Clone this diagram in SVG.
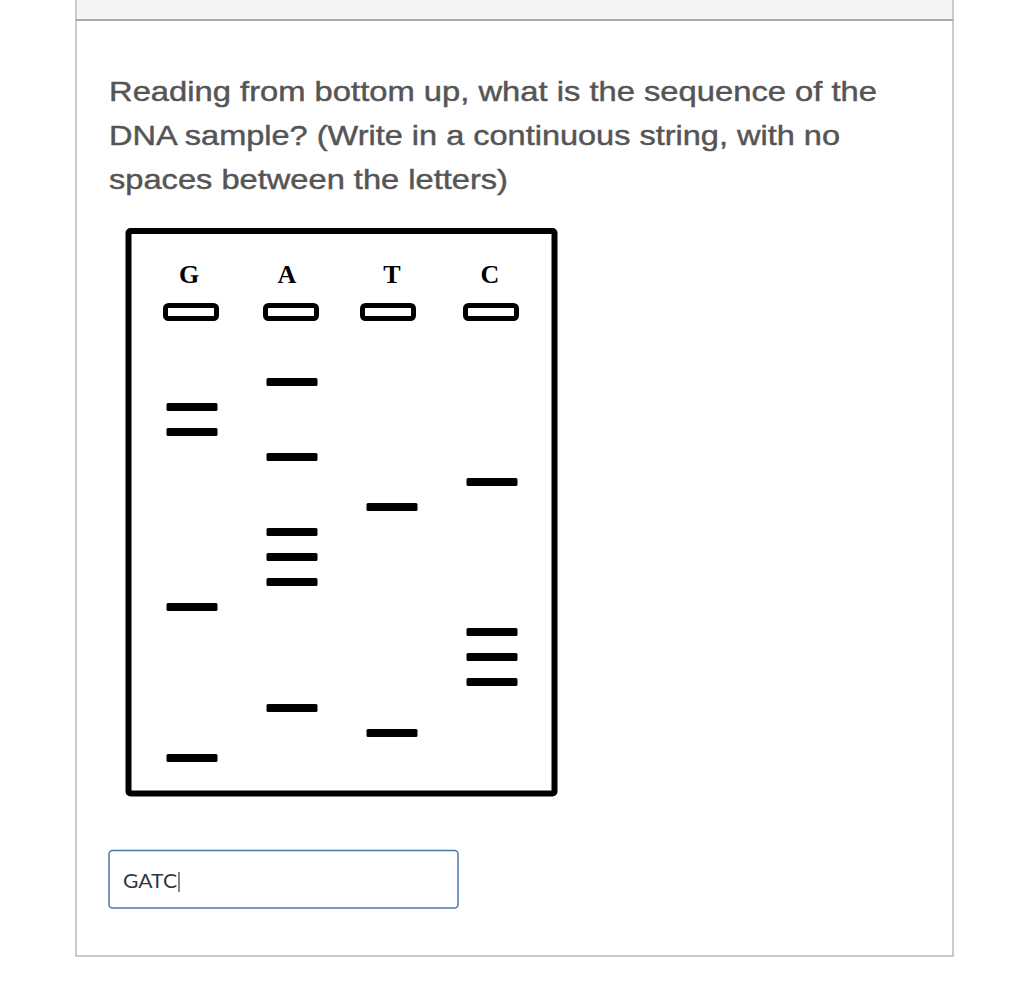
<svg xmlns="http://www.w3.org/2000/svg" width="1024" height="988" viewBox="0 0 1024 988">
<style>
.q{font-family:"Liberation Sans",Arial,sans-serif;font-size:28px;fill:#555555;stroke:#555555;stroke-width:0.45}
.lbl{font-family:"Liberation Serif","Times New Roman",serif;font-size:26px;font-weight:bold;fill:#000;text-anchor:middle}
.well{fill:#fff;stroke:#000;stroke-width:5}
.band{fill:#000}
</style>
<defs>
<rect id="b" class="band" width="51" height="8" rx="1.5"/>
</defs>
<rect x="0" y="0" width="1024" height="988" fill="#fff"/>
<g id="panel">
<rect x="76" y="-2" width="877" height="22" fill="#f4f4f4" stroke="#bbbbbb" stroke-width="1.5"/>
<rect x="76" y="20" width="877" height="936" fill="#fff" stroke="#bbbbbb" stroke-width="1.5"/>
<line x1="76" y1="20" x2="953" y2="20" stroke="#aaaaaa" stroke-width="2"/>
</g>
<g id="question">
<text class="q" x="109" y="101" textLength="768" lengthAdjust="spacingAndGlyphs">Reading from bottom up, what is the sequence of the</text>
<text class="q" x="109" y="145" textLength="731" lengthAdjust="spacingAndGlyphs">DNA sample? (Write in a continuous string, with no</text>
<text class="q" x="109" y="189" textLength="399" lengthAdjust="spacingAndGlyphs">spaces between the letters)</text>
</g>
<g id="gel">
<rect x="128.5" y="231" width="426" height="562.5" rx="2" fill="#fff" stroke="#000" stroke-width="6"/>
<text class="lbl" x="189" y="283">G</text>
<text class="lbl" x="287" y="283">A</text>
<text class="lbl" x="392" y="283">T</text>
<text class="lbl" x="490" y="283">C</text>
<rect class="well" x="165.5" y="305.5" width="51" height="13" rx="3"/>
<rect class="well" x="265.5" y="305.5" width="51" height="13" rx="3"/>
<rect class="well" x="362.5" y="305.5" width="51" height="13" rx="3"/>
<rect class="well" x="465.5" y="305.5" width="51" height="13" rx="3"/>
</g>
<g id="bands">
<use href="#b" x="266.5" y="378"/>
<use href="#b" x="166.5" y="403"/>
<use href="#b" x="166.5" y="428"/>
<use href="#b" x="266.5" y="453"/>
<use href="#b" x="466.5" y="478"/>
<use href="#b" x="366.5" y="503"/>
<use href="#b" x="266.5" y="528"/>
<use href="#b" x="266.5" y="553"/>
<use href="#b" x="266.5" y="578"/>
<use href="#b" x="166.5" y="603"/>
<use href="#b" x="466.5" y="628"/>
<use href="#b" x="466.5" y="653"/>
<use href="#b" x="466.5" y="678"/>
<use href="#b" x="266.5" y="704"/>
<use href="#b" x="366.5" y="729"/>
<use href="#b" x="166.5" y="754"/>
</g>
<g id="answer">
<rect x="109" y="850.5" width="349" height="57.5" rx="3.5" fill="#fff" stroke="#4a77ad" stroke-width="1.5"/>
<text x="123" y="887.5" font-family="Lato,'Liberation Sans',sans-serif" font-size="20" fill="#2f3640" textLength="54" lengthAdjust="spacingAndGlyphs">GATC</text>
<line x1="179" y1="872" x2="179" y2="892" stroke="#2f3640" stroke-width="1.2"/>
</g>
</svg>
